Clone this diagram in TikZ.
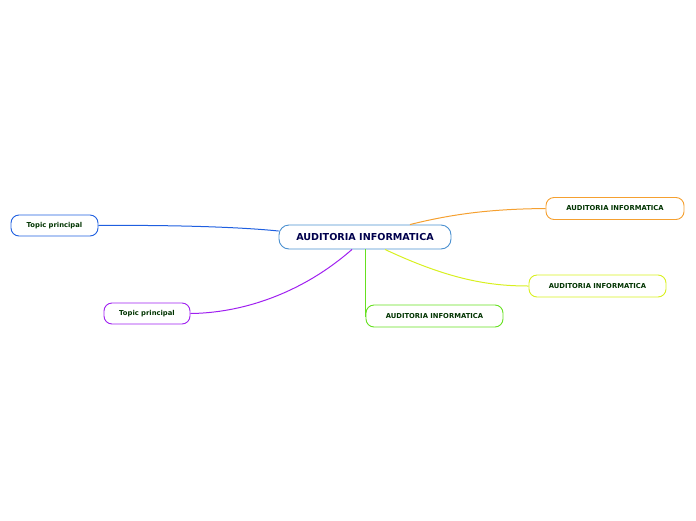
\documentclass[tikz,border=0pt]{standalone}
\usepackage{fontspec}
\setmainfont{DejaVu Sans}
\begin{document}
\begin{tikzpicture}[x=1pt,y=-1pt,
  topicbox/.style={draw, rounded corners=8pt, line width=0.9pt, minimum height=#1, inner xsep=0pt, text=green!20!black, font=\bfseries\fontsize{6.8}{8}\selectfont, anchor=center},
  link/.style={line width=1pt}]
\useasboundingbox (0,0) rectangle (696,520);
\definecolor{cblue}{HTML}{1F5FE0}
\definecolor{cpurp}{HTML}{A020F0}
\definecolor{cgreen}{HTML}{66E020}
\definecolor{cyell}{HTML}{D8F020}
\definecolor{corange}{HTML}{F5A030}
\definecolor{cmain}{HTML}{4A90D0}
\node[draw=cmain, rounded corners=10pt, line width=0.9pt, minimum width=172pt, minimum height=24pt, text=blue!30!black, font=\bfseries\fontsize{9.6}{11}\selectfont] (c) at (365,237) {AUDITORIA INFORMATICA};
\node[topicbox=21pt, draw=cblue, minimum width=87pt] (t1) at (54.5,225.5) {Topic principal};
\node[topicbox=21pt, draw=cpurp, minimum width=86pt] (t2) at (147,313.5) {Topic principal};
\node[topicbox=22pt, draw=corange, minimum width=138pt] (a1) at (615,208.5) {AUDITORIA INFORMATICA};
\node[topicbox=22pt, draw=cyell, minimum width=137pt] (a2) at (597.5,286) {AUDITORIA INFORMATICA};
\node[topicbox=22pt, draw=cgreen, minimum width=137pt] (a3) at (434.5,316) {AUDITORIA INFORMATICA};
\draw[link, cblue] (c.west) ++(0,-6) coordinate (s1);
\draw[link, cblue] (s1) .. controls (230,226) and (150,225) .. (t1.east);
\draw[link, cpurp] (c.south) ++(-13,0) coordinate (s2);
\draw[link, cpurp] (s2) .. controls (300,295) and (240,313) .. (t2.east);
\draw[link, cgreen] (c.south) -- (365,316) -- (a3.west);
\draw[link, cyell] (c.south) ++(20,0) coordinate (s4);
\draw[link, cyell] (s4) .. controls (450,280) and (490,286) .. (a2.west);
\draw[link, corange] (c.north) ++(45,0) coordinate (s5);
\draw[link, corange] (s5) .. controls (460,212) and (500,209) .. (a1.west);
\end{tikzpicture}
\end{document}
